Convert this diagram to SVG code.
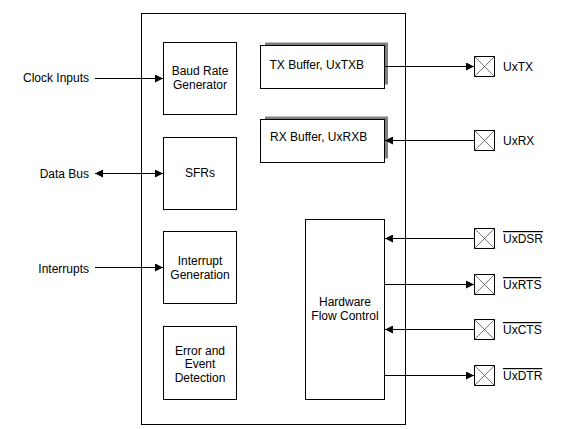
<svg xmlns="http://www.w3.org/2000/svg" width="569" height="429" viewBox="0 0 569 429">
<style>
.box{fill:#fff;stroke:#000;stroke-width:1}
.sh{fill:#808080}
.t{font-family:"Liberation Sans",Arial,sans-serif;font-size:12px;fill:#000}
.c{text-anchor:middle}
.e{text-anchor:end}
.ln{stroke:#000;stroke-width:1;fill:none}
.pin{fill:#fff;stroke:#000;stroke-width:1}
.x{stroke:#555;stroke-width:0.8}
.ov{text-decoration:overline}
</style>
<defs>
<marker id="ah" viewBox="0 0 8 8" refX="8" refY="4" markerWidth="8" markerHeight="8" markerUnits="userSpaceOnUse" orient="auto-start-reverse">
<path d="M0,0 L8,4 L0,8 Z" fill="#000"/>
</marker>
<g id="pinshape">
<rect class="pin" x="0" y="0" width="20" height="20"/>
<line class="x" x1="0" y1="0" x2="20" y2="20"/>
<line class="x" x1="20" y1="0" x2="0" y2="20"/>
</g>
</defs>
<rect width="569" height="429" fill="#fff"/>
<g id="module">
<rect class="box" x="141.5" y="13.5" width="264" height="411"/>
</g>
<g id="baud">
<rect class="box" x="163.5" y="42.5" width="73" height="72"/>
<text class="t c" x="200" y="75">Baud Rate</text>
<text class="t c" x="200" y="89">Generator</text>
</g>
<g id="sfrs">
<rect class="box" x="163.5" y="137.5" width="73" height="72"/>
<text class="t c" x="200" y="177">SFRs</text>
</g>
<g id="intgen">
<rect class="box" x="163.5" y="231.5" width="73" height="72"/>
<text class="t c" x="200" y="265">Interrupt</text>
<text class="t c" x="200" y="279">Generation</text>
</g>
<g id="errdet">
<rect class="box" x="163.5" y="326.5" width="73" height="73"/>
<text class="t c" x="200" y="354.5">Error and</text>
<text class="t c" x="200" y="368">Event</text>
<text class="t c" x="200" y="381.5">Detection</text>
</g>
<g id="txbuf">
<rect class="sh" x="265" y="42.5" width="123" height="42"/>
<rect class="box" x="260.5" y="45.5" width="124" height="43"/>
<text class="t" x="269.5" y="68.5">TX Buffer, UxTXB</text>
</g>
<g id="rxbuf">
<rect class="sh" x="265" y="116.5" width="123" height="42"/>
<rect class="box" x="260.5" y="119.5" width="124" height="43"/>
<text class="t" x="270" y="141">RX Buffer, UxRXB</text>
</g>
<g id="hwflow">
<rect class="box" x="305.5" y="219.5" width="79" height="180"/>
<text class="t c" x="345" y="306">Hardware</text>
<text class="t c" x="345" y="320">Flow Control</text>
</g>
<g id="inputs">
<text class="t e" x="89" y="82">Clock Inputs</text>
<text class="t e" x="89" y="177.5">Data Bus</text>
<text class="t e" x="89" y="272.5">Interrupts</text>
</g>
<g id="pins">
<use href="#pinshape" x="474.5" y="56.5"/>
<text class="t" x="503" y="71">UxTX</text>
<use href="#pinshape" x="474.5" y="130.5"/>
<text class="t" x="503" y="145">UxRX</text>
<use href="#pinshape" x="474.5" y="228.5"/>
<text class="t ov" x="503" y="243">UxDSR</text>
<use href="#pinshape" x="474.5" y="274.5"/>
<text class="t ov" x="503" y="289">UxRTS</text>
<use href="#pinshape" x="474.5" y="319.5"/>
<text class="t ov" x="503" y="334">UxCTS</text>
<use href="#pinshape" x="474.5" y="365.5"/>
<text class="t ov" x="503" y="380">UxDTR</text>
</g>
<g id="connectors">
<line class="ln" x1="95" y1="78.5" x2="163" y2="78.5" marker-end="url(#ah)"/>
<line class="ln" x1="95" y1="173.5" x2="163" y2="173.5" marker-start="url(#ah)" marker-end="url(#ah)"/>
<line class="ln" x1="95" y1="267.5" x2="163" y2="267.5" marker-end="url(#ah)"/>
<line class="ln" x1="385" y1="66.5" x2="474" y2="66.5" marker-end="url(#ah)"/>
<line class="ln" x1="474" y1="140.5" x2="385" y2="140.5" marker-end="url(#ah)"/>
<line class="ln" x1="474" y1="238.5" x2="385" y2="238.5" marker-end="url(#ah)"/>
<line class="ln" x1="385" y1="284.5" x2="474" y2="284.5" marker-end="url(#ah)"/>
<line class="ln" x1="474" y1="329.5" x2="385" y2="329.5" marker-end="url(#ah)"/>
<line class="ln" x1="385" y1="375.5" x2="474" y2="375.5" marker-end="url(#ah)"/>
</g>
</svg>
